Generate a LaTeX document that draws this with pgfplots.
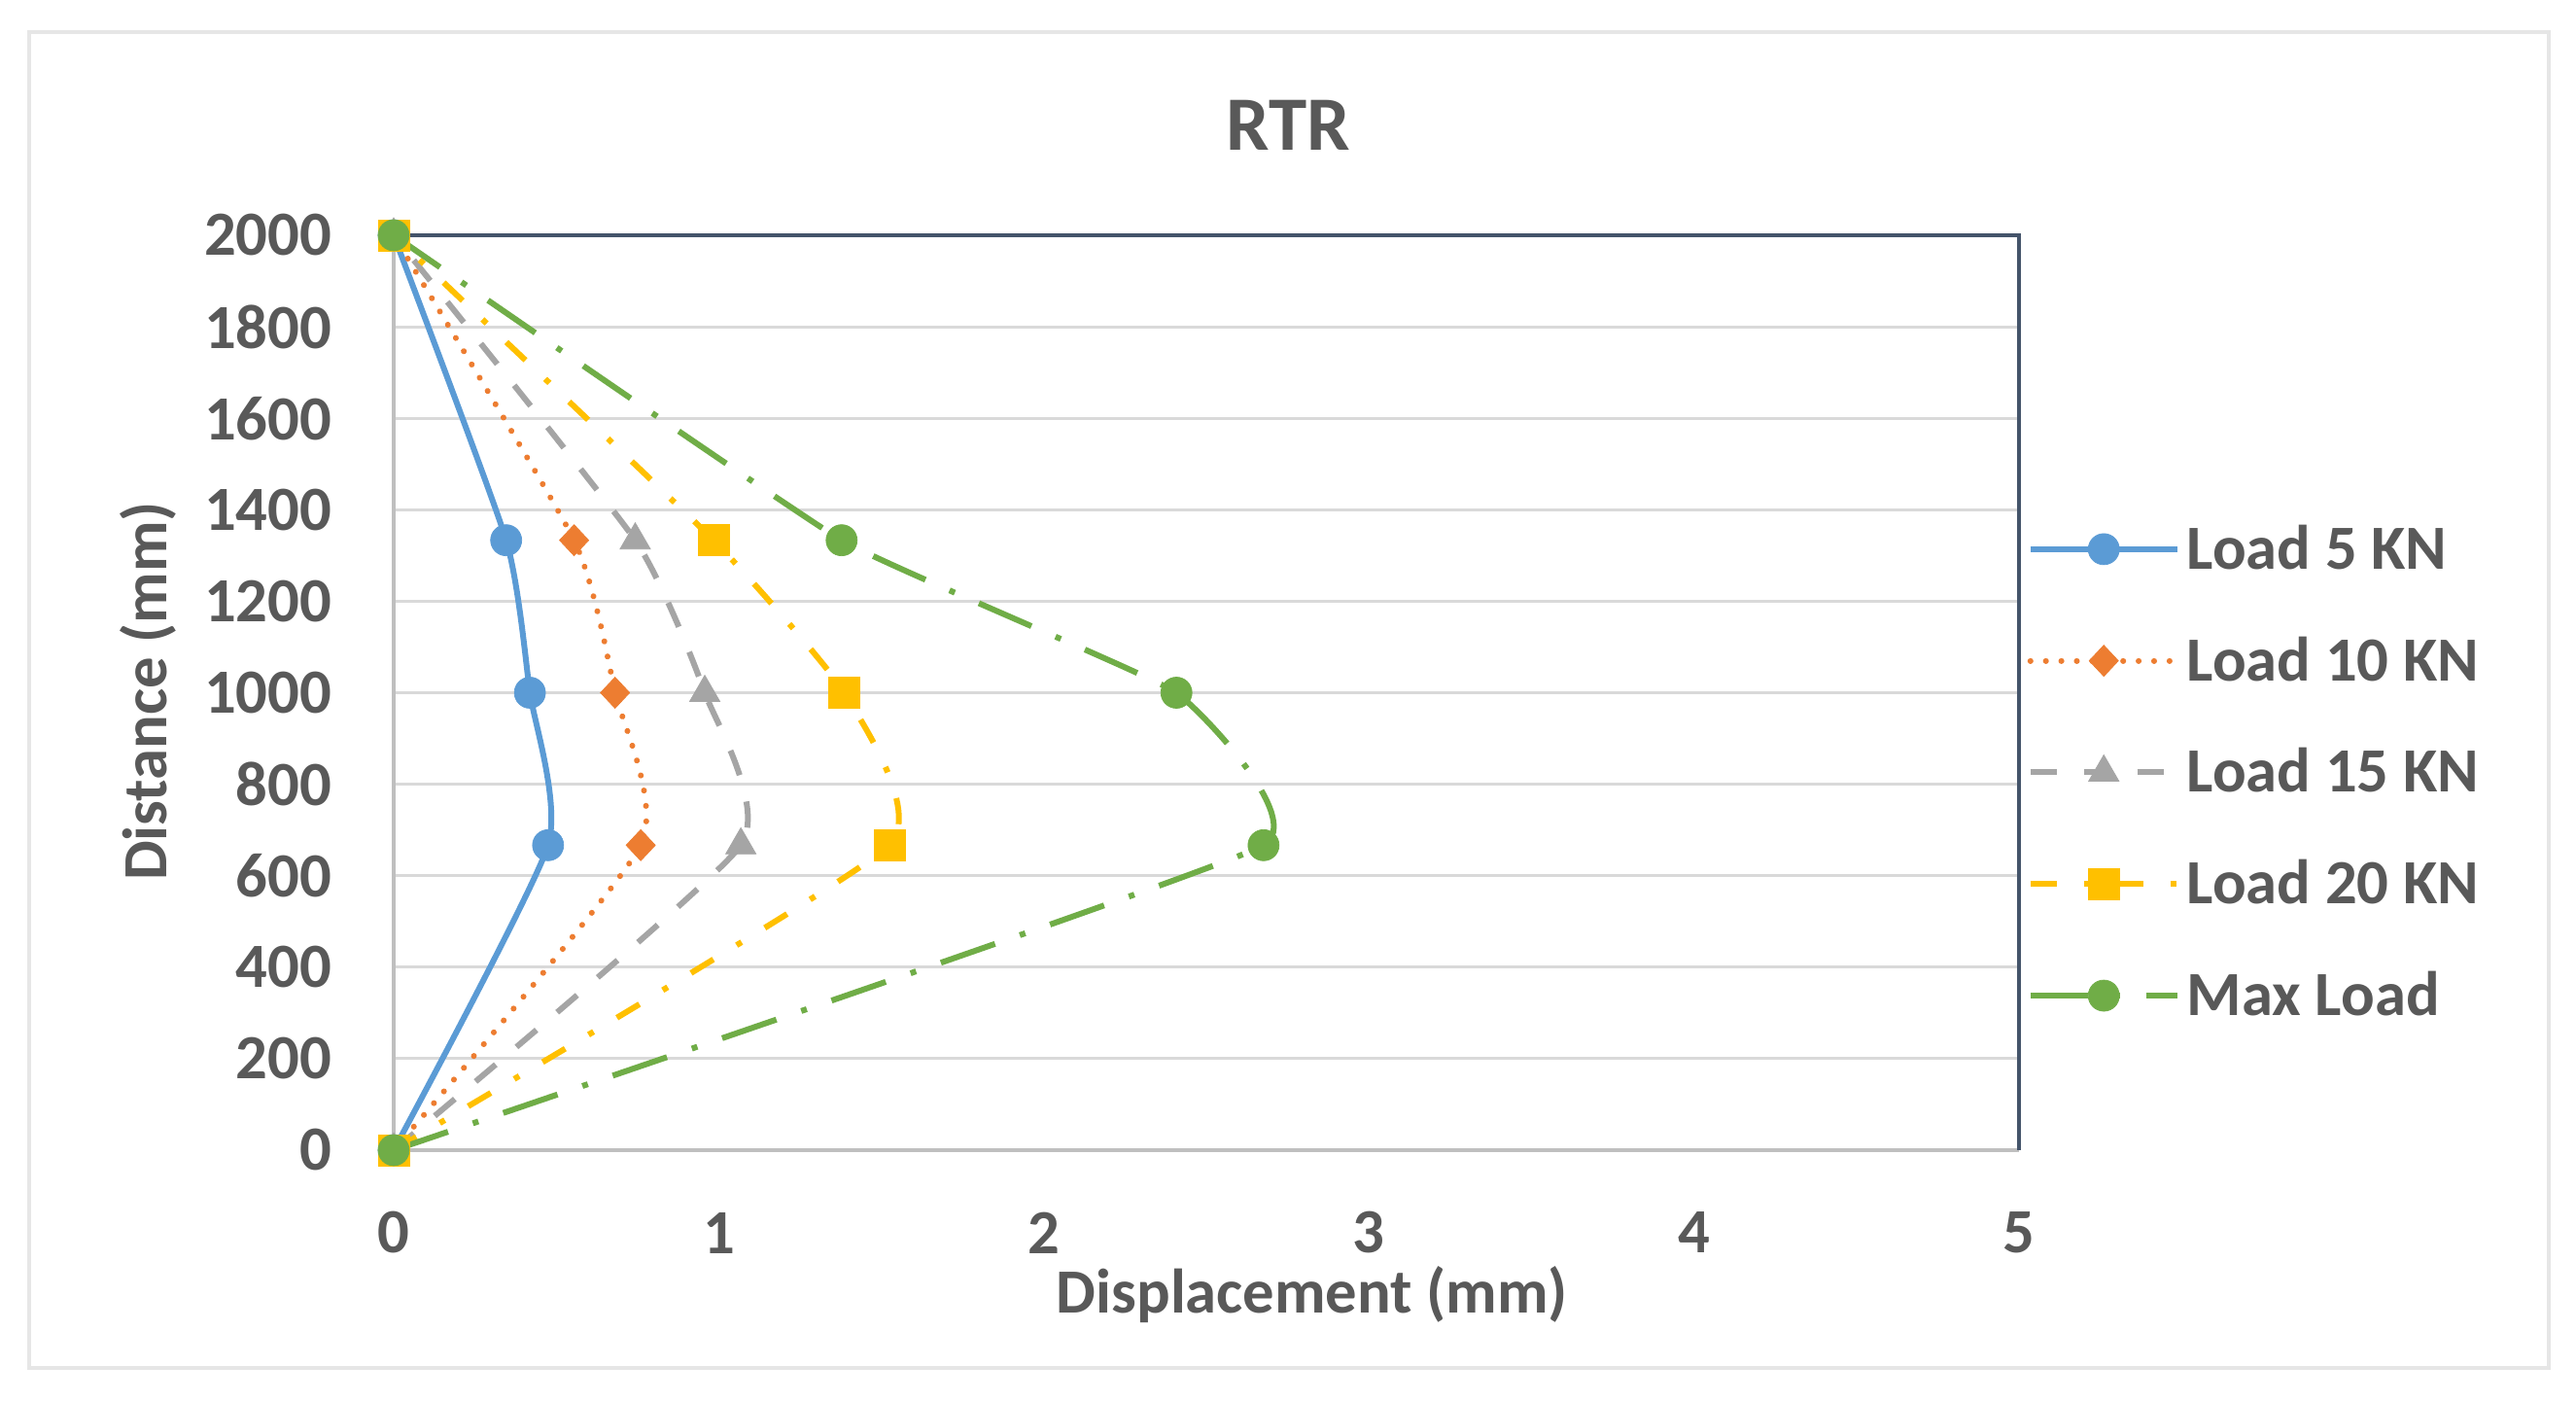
\documentclass[border=0pt]{standalone}
\usepackage{fontspec}
\setmainfont{Carlito}
\usepackage{pgfplots}
\pgfplotsset{compat=1.18}
\usepackage{pgfplotstable}

\definecolor{cblue}{HTML}{5B9BD5}
\definecolor{corange}{HTML}{ED7D31}
\definecolor{cgray}{HTML}{A5A5A5}
\definecolor{cyellow}{HTML}{FFC000}
\definecolor{cgreen}{HTML}{70AD47}
\definecolor{txt}{HTML}{595959}
\definecolor{gridc}{HTML}{D9D9D9}
\definecolor{axgray}{HTML}{BFBFBF}
\definecolor{navy}{HTML}{44546A}
\definecolor{framec}{HTML}{E6E6E6}

\pgfplotstableread{
x y
0 0
0.475 666.67
0.419 1000
0.346 1333.33
0 2000
}\loadfive
\pgfplotstableread{
x y
0 0
0.760 666.67
0.681 1000
0.555 1333.33
0 2000
}\loadten
\pgfplotstableread{
x y
0 0
1.068 666.67
0.957 1000
0.743 1333.33
0 2000
}\loadfifteen
\pgfplotstableread{
x y
0 0
1.525 666.67
1.386 1000
0.984 1333.33
0 2000
}\loadtwenty
\pgfplotstableread{
x y
0 0
2.676 666.67
2.408 1000
1.378 1333.33
0 2000
}\loadmax

\newcommand{\lblfont}{\bfseries\fontsize{18.4}{22}\selectfont}

\begin{document}
\begin{tikzpicture}
\fill[white] (0,0) rectangle (265mm,144mm);
\useasboundingbox (0,0) rectangle (265mm,144mm);
\draw[framec, line width=0.35mm] (3.0mm,3.3mm) rectangle (262.2mm,140.7mm);
\begin{axis}[
  at={(40.5mm,25.7mm)}, anchor=south west,
  scale only axis, width=167.2mm, height=94.1mm,
  xmin=0, xmax=5, ymin=0, ymax=2000,
  xtick={0,1,2,3,4,5}, ytick={0,200,...,2000},
  axis line style={draw=none},
  major tick length=0pt,
  ymajorgrids, grid style={gridc, line width=0.3mm},
  clip=false,
  font=\lblfont,
  tick label style={text=txt, font=\lblfont},
  /pgf/number format/assume math mode=true,
  /pgf/number format/1000 sep={},
  xticklabel style={anchor=center, inner sep=0pt, yshift=-8.5mm},
  yticklabel style={anchor=east, inner sep=0pt, xshift=-6.3mm},
  title=RTR,
  title style={at={(axis description cs:0.5502,1.071)}, anchor=base, text=txt, font=\bfseries\fontsize{22.5}{27}\selectfont, inner sep=0pt},
  xlabel={Displacement (mm)},
  xlabel style={at={(axis description cs:0.5652,-0.1785)}, anchor=base, text=txt, inner sep=0pt, font=\lblfont},
  ylabel={Distance (mm)},
  ylabel style={at={(axis description cs:-0.1394,0.5016)}, anchor=base, text=txt, inner sep=0pt, font=\lblfont},
  legend style={at={(axis description cs:1.0048,0.4129)}, anchor=west, draw=none, fill=none, inner sep=0pt,
    row sep=4.38mm, column sep=0.7mm,
    nodes={inner sep=0pt, text height=5.6mm, text depth=1.5mm, text=txt, font=\lblfont},
    cells={anchor=west}},
  legend image code/.code={\draw[mark repeat=2,mark phase=2] plot coordinates {(0mm,0mm) (7.55mm,0mm) (15.1mm,0mm)};},
]
\draw[axgray, line width=0.35mm] (rel axis cs:0,1) -- (rel axis cs:0,0) -- (rel axis cs:1,0);
\draw[navy, line width=0.35mm] (rel axis cs:0,1) -- (rel axis cs:1,1) -- (rel axis cs:1,0);

\addplot[cblue, line width=0.6mm, smooth, tension=0.33, mark=*, mark size=1.6mm,
  mark options={solid, fill=cblue, draw=cblue, line width=0.2pt}] table {\loadfive};
\addlegendentry{Load 5 KN}
\addplot[corange, line width=0.6mm, smooth, tension=0.33, line cap=round, dash pattern=on 0.01mm off 1.58mm,
  mark=diamond*, mark size=1.6mm,
  mark options={solid, xscale=1.25, fill=corange, draw=corange, line width=0.2pt}] table {\loadten};
\addlegendentry{Load 10 KN}
\addplot[cgray, line width=0.6mm, smooth, tension=0.3, dash pattern=on 2.7mm off 2.8mm,
  mark=triangle*, mark size=1.8mm,
  mark options={solid, fill=cgray, draw=cgray, line width=0.2pt}] table {\loadfifteen};
\addlegendentry{Load 15 KN}
\addplot[cyellow, line width=0.6mm, smooth, tension=0.27, dash pattern=on 2.7mm off 2.8mm on 0.6mm off 2.8mm,
  mark=square*, mark size=1.6mm,
  mark options={solid, fill=cyellow, draw=cyellow, line width=0.2pt}] table {\loadtwenty};
\addlegendentry{Load 20 KN}
\addplot[cgreen, line width=0.6mm, smooth, tension=0.2, dash pattern=on 5.9mm off 2.7mm on 0.6mm off 2.7mm,
  mark=*, mark size=1.6mm,
  mark options={solid, fill=cgreen, draw=cgreen, line width=0.2pt}] table {\loadmax};
\addlegendentry{Max Load}
\end{axis}
\end{tikzpicture}
\end{document}
